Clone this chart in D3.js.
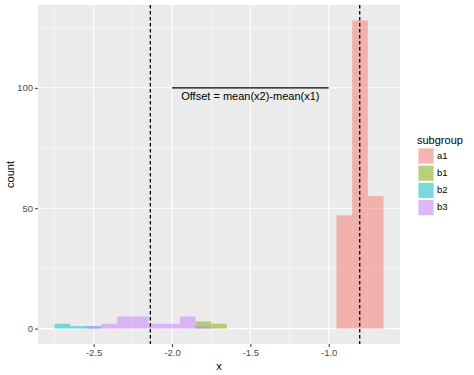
<!DOCTYPE html>
<html>
<head>
<meta charset="utf-8">
<script src="https://cdn.jsdelivr.net/npm/d3@7"></script>
<style>
  body { margin: 0; background: #fff; }
  text { font-family: "Liberation Sans", Arial, sans-serif; }
</style>
</head>
<body>
<div id="chart"></div>
<script>
// histogram bins (left edges, width 0.1) and counts per subgroup
const binEdges = [-2.75, -2.65, -2.55, -2.45, -2.35, -2.25, -2.15, -2.05, -1.95, -1.85, -1.75,
                  -1.65, -1.55, -1.45, -1.35, -1.25, -1.15, -1.05, -0.95, -0.85, -0.75, -0.65];
const a1Counts = [0, 0, 0, 0, 0, 0, 0, 0, 0, 0, 0, 0, 0, 0, 0, 0, 0, 0, 47, 128, 55];
const b1Counts = [0, 0, 0, 0, 0, 0, 0, 0, 0, 3, 2, 0, 0, 0, 0, 0, 0, 0, 0, 0, 0];
const b2Counts = [2, 1, 1, 0, 0, 0, 0, 0, 0, 0, 0, 0, 0, 0, 0, 0, 0, 0, 0, 0, 0];
const b3Counts = [0, 0, 1, 2, 5, 5, 2, 2, 5, 1, 0, 0, 0, 0, 0, 0, 0, 0, 0, 0, 0];
const subgroups = ['a1', 'b1', 'b2', 'b3'];
const colors = ['#F8766D', '#7CAE00', '#00BFC4', '#C77CFF'];
const means = [-2.138, -0.802];   // mean(x2), mean(x1)
const xTicks = [-2.5, -2.0, -1.5, -1.0];
const xMinor = [-2.75, -2.25, -1.75, -1.25, -0.75];
const yTicks = [0, 50, 100];
const yMinor = [25, 75, 125];
const offsetSeg = [-2.0, -1.0];
const offsetY = 100;
const labelY = 96;

const W = 474, H = 375;
const panel = { left: 38, right: 400, top: 5, bottom: 344 };

const svg = d3.select('#chart').append('svg')
    .attr('width', W)
    .attr('height', H);

const x = d3.scaleLinear().domain([-2.855, -0.545]).range([panel.left, panel.right]);
const y = d3.scaleLinear().domain([-6.4, 134.4]).range([panel.bottom, panel.top]);

// panel background
svg.append('rect')
    .attr('x', panel.left).attr('y', panel.top)
    .attr('width', panel.right - panel.left).attr('height', panel.bottom - panel.top)
    .attr('fill', '#EBEBEB');

// grid lines
const grid = svg.append('g');
grid.selectAll('.xmin').data(xMinor).enter().append('line')
    .attr('x1', d => x(d)).attr('x2', d => x(d))
    .attr('y1', panel.top).attr('y2', panel.bottom)
    .attr('stroke', '#fff').attr('stroke-width', 0.5);
grid.selectAll('.ymin').data(yMinor).enter().append('line')
    .attr('y1', d => y(d)).attr('y2', d => y(d))
    .attr('x1', panel.left).attr('x2', panel.right)
    .attr('stroke', '#fff').attr('stroke-width', 0.5);
grid.selectAll('.xmaj').data(xTicks).enter().append('line')
    .attr('x1', d => x(d)).attr('x2', d => x(d))
    .attr('y1', panel.top).attr('y2', panel.bottom)
    .attr('stroke', '#fff').attr('stroke-width', 1.1);
grid.selectAll('.ymaj').data(yTicks).enter().append('line')
    .attr('y1', d => y(d)).attr('y2', d => y(d))
    .attr('x1', panel.left).attr('x2', panel.right)
    .attr('stroke', '#fff').attr('stroke-width', 1.1);

// bars, drawn on top of each other (position identity, alpha 0.5)
const series = [a1Counts, b1Counts, b2Counts, b3Counts];
series.forEach((counts, i) => {
    const bins = counts.map((c, j) => ({ x0: binEdges[j], x1: binEdges[j + 1], c }))
        .filter(d => d.c > 0);
    svg.append('g').selectAll('rect').data(bins).enter().append('rect')
        .attr('x', d => x(d.x0))
        .attr('width', d => x(d.x1) - x(d.x0))
        .attr('y', d => y(d.c))
        .attr('height', d => y(0) - y(d.c))
        .attr('fill', colors[i])
        .attr('fill-opacity', 0.5);
});

// mean lines
svg.selectAll('.mean').data(means).enter().append('line')
    .attr('x1', d => x(d)).attr('x2', d => x(d))
    .attr('y1', panel.top).attr('y2', panel.bottom)
    .attr('stroke', '#000').attr('stroke-width', 1.3)
    .attr('stroke-dasharray', '3.5,2.5');

// offset segment and label
svg.append('line')
    .attr('x1', x(offsetSeg[0])).attr('x2', x(offsetSeg[1]))
    .attr('y1', y(offsetY)).attr('y2', y(offsetY))
    .attr('stroke', '#000').attr('stroke-width', 1.2);
svg.append('text')
    .attr('x', x((offsetSeg[0] + offsetSeg[1]) / 2))
    .attr('y', y(labelY))
    .attr('text-anchor', 'middle')
    .attr('dominant-baseline', 'middle')
    .attr('font-size', 11)
    .attr('fill', '#000')
    .text('Offset = mean(x2)-mean(x1)');

// axes
const xAxis = svg.append('g')
    .attr('transform', `translate(0,${panel.bottom})`)
    .call(d3.axisBottom(x).tickValues(xTicks).tickFormat(d3.format('.1f')).tickSize(3).tickPadding(2));
const yAxis = svg.append('g')
    .attr('transform', `translate(${panel.left},0)`)
    .call(d3.axisLeft(y).tickValues(yTicks).tickSize(3).tickPadding(2));
[xAxis, yAxis].forEach(a => {
    a.select('.domain').remove();
    a.selectAll('line').attr('stroke', '#333');
    a.selectAll('text').attr('fill', '#4D4D4D').attr('font-size', 9.5)
        .style('font-family', '"Liberation Sans", Arial, sans-serif');
});
xAxis.selectAll('text').text(d => d3.format('.1f')(d).replace('−', '-'));

svg.append('text')
    .attr('x', (panel.left + panel.right) / 2).attr('y', 370)
    .attr('text-anchor', 'middle').attr('font-size', 11).text('x');
svg.append('text')
    .attr('transform', `translate(14,${(panel.top + panel.bottom) / 2}) rotate(-90)`)
    .attr('text-anchor', 'middle').attr('font-size', 11).text('count');

// legend
const legend = svg.append('g').attr('transform', 'translate(417,0)');
legend.append('text').attr('x', 0).attr('y', 144).attr('font-size', 11).text('subgroup');
subgroups.forEach((s, i) => {
    const ky = 148 + i * 17.2;
    legend.append('rect').attr('x', 1).attr('y', ky).attr('width', 16).attr('height', 16)
        .attr('fill', '#F2F2F2');
    legend.append('rect').attr('x', 1.5).attr('y', ky + 0.5).attr('width', 15).attr('height', 15)
        .attr('fill', colors[i]).attr('fill-opacity', 0.5);
    legend.append('text').attr('x', 20).attr('y', ky + 8).attr('dominant-baseline', 'middle')
        .attr('font-size', 9.5).attr('fill', '#000').text(s);
});
</script>
</body>
</html>
